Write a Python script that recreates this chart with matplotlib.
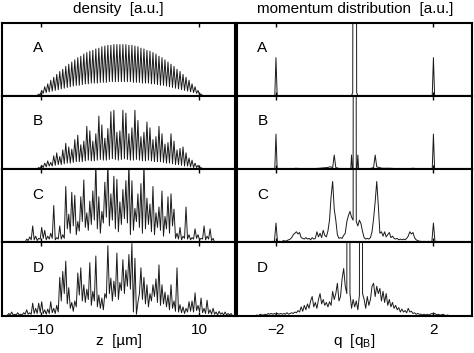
import numpy as np
import matplotlib
matplotlib.use("Agg")
import matplotlib.pyplot as plt

plt.rcParams['font.family'] = ['Liberation Sans', 'DejaVu Sans']
plt.rcParams['mathtext.fontset'] = 'custom'
plt.rcParams['mathtext.rm'] = 'Liberation Sans'

# ---- density: peak height at each lattice site and the minimum between sites ----
site = 0.38  # lattice spacing in um
panel_names = ["A", "B", "C", "D"]
dens_start = [-10.26, -10.26, -11.78, -14.06]

dens_A_peaks = [0.02, 0.07, 0.12, 0.16, 0.21, 0.25, 0.29, 0.33, 0.36, 0.40,
                0.43, 0.46, 0.49, 0.52, 0.54, 0.57, 0.59, 0.61, 0.62, 0.64,
                0.65, 0.67, 0.68, 0.69, 0.69, 0.70, 0.70, 0.70, 0.70, 0.70,
                0.69, 0.69, 0.68, 0.67, 0.65, 0.64, 0.62, 0.61, 0.59, 0.57,
                0.54, 0.52, 0.49, 0.46, 0.43, 0.40, 0.36, 0.33, 0.29, 0.25,
                0.21, 0.16, 0.12, 0.07, 0.02]
dens_A_troughs = [0.01, 0.03, 0.04, 0.05, 0.06, 0.07, 0.08, 0.09, 0.10, 0.11,
                  0.12, 0.13, 0.14, 0.14, 0.15, 0.16, 0.16, 0.17, 0.17, 0.17,
                  0.18, 0.18, 0.18, 0.19, 0.19, 0.19, 0.19, 0.19, 0.19, 0.19,
                  0.19, 0.18, 0.18, 0.18, 0.17, 0.17, 0.17, 0.16, 0.16, 0.15,
                  0.14, 0.14, 0.13, 0.12, 0.11, 0.10, 0.09, 0.08, 0.07, 0.06,
                  0.05, 0.04, 0.03, 0.01]

dens_B_peaks = [0.02, 0.05, 0.08, 0.11, 0.09, 0.18, 0.22, 0.17, 0.26, 0.35,
                0.30, 0.27, 0.40, 0.46, 0.33, 0.38, 0.58, 0.52, 0.38, 0.48,
                0.72, 0.60, 0.42, 0.55, 0.78, 0.80, 0.50, 0.52, 0.80, 0.76,
                0.48, 0.56, 0.80, 0.66, 0.44, 0.50, 0.64, 0.56, 0.40, 0.44,
                0.58, 0.48, 0.34, 0.36, 0.48, 0.38, 0.26, 0.28, 0.30, 0.22,
                0.15, 0.12, 0.08, 0.05, 0.02]
dens_B_troughs = [0.01, 0.02, 0.03, 0.04, 0.04, 0.05, 0.06, 0.06, 0.07, 0.08,
                  0.08, 0.09, 0.10, 0.10, 0.10, 0.11, 0.12, 0.11, 0.11, 0.12,
                  0.13, 0.12, 0.12, 0.13, 0.14, 0.13, 0.12, 0.13, 0.14, 0.13,
                  0.12, 0.12, 0.13, 0.12, 0.11, 0.11, 0.12, 0.11, 0.10, 0.10,
                  0.10, 0.09, 0.08, 0.08, 0.07, 0.06, 0.06, 0.05, 0.04, 0.04,
                  0.03, 0.02, 0.02, 0.01]

dens_C_peaks = [0.04, 0.07, 0.22, 0.08, 0.05, 0.20, 0.16, 0.08, 0.12, 0.50,
                0.06, 0.22, 0.10, 0.76, 0.38, 0.68, 0.64, 0.28, 0.62, 0.85,
                0.40, 0.56, 0.70, 1.10, 0.62, 0.42, 0.82, 1.10, 0.66, 0.90,
                0.86, 0.55, 0.72, 0.84, 1.10, 0.84, 0.46, 0.66, 0.80, 1.10,
                0.60, 0.52, 0.76, 0.40, 0.48, 0.70, 0.35, 0.62, 0.66, 0.45,
                0.12, 0.20, 0.08, 0.48, 0.10, 0.06, 0.18, 0.10, 0.05, 0.22,
                0.08, 0.18, 0.05]
dens_C_troughs = [0.02, 0.03, 0.03, 0.02, 0.04, 0.05, 0.03, 0.04, 0.05, 0.03,
                  0.04, 0.04, 0.05,
                  0.18, 0.12, 0.22, 0.10, 0.15, 0.28, 0.20, 0.16, 0.24, 0.30,
                  0.18, 0.12, 0.26, 0.34, 0.22, 0.30, 0.18, 0.14, 0.24, 0.32,
                  0.26, 0.10, 0.16, 0.28, 0.20, 0.12, 0.18, 0.24, 0.14, 0.10,
                  0.20, 0.16, 0.08, 0.18, 0.12, 0.22,
                  0.05, 0.04, 0.03, 0.05, 0.04, 0.03, 0.04, 0.05, 0.03, 0.04,
                  0.03, 0.04, 0.02]

dens_D_peaks = [0.03, 0.05, 0.02, 0.04, 0.02, 0.04, 0.08, 0.04, 0.17, 0.10,
                0.17, 0.19, 0.08, 0.09, 0.19, 0.10, 0.14, 0.52, 0.60, 0.74,
                0.38, 0.18, 0.20, 0.58, 0.65, 0.42, 0.36, 0.72, 0.33, 0.81,
                0.28, 0.24, 0.30, 0.95, 0.51, 0.47, 0.85, 0.45, 0.76, 0.62,
                0.83, 0.98, 0.78, 0.18, 0.65, 0.52, 0.42, 0.30, 0.42, 0.50,
                0.69, 0.42, 0.32, 0.28, 0.42, 0.20, 0.65, 0.15, 0.12, 0.10,
                0.19, 0.20, 0.31, 0.14, 0.24, 0.10, 0.21, 0.08, 0.10, 0.05,
                0.06, 0.04, 0.05, 0.03, 0.03]
dens_D_troughs = [0.01, 0.01, 0.01, 0.01, 0.01, 0.02, 0.02, 0.02, 0.03, 0.03,
                  0.04, 0.03, 0.02, 0.03, 0.04, 0.03, 0.05,
                  0.20, 0.30, 0.16, 0.10, 0.06, 0.12, 0.28, 0.20, 0.18, 0.22,
                  0.14, 0.20, 0.12, 0.10, 0.08, 0.24, 0.30, 0.20, 0.26, 0.22,
                  0.34, 0.30, 0.40, 0.36, 0.05, 0.02, 0.30, 0.22, 0.16, 0.12,
                  0.20, 0.26, 0.18, 0.14, 0.16, 0.12, 0.08, 0.10, 0.06, 0.05,
                  0.04, 0.03, 0.05, 0.06, 0.05, 0.07, 0.05, 0.04, 0.03, 0.03,
                  0.02, 0.02, 0.01, 0.02, 0.01, 0.01, 0.01]

# ---- momentum distribution ----
mom_A_q = [-3.00, -2.03, -2.00, -1.97, -0.08, -0.05, 0.00, 0.05, 0.08, 1.97, 2.00, 2.03, 3.00]
mom_A_v = [0.00, 0.00, 0.52, 0.00, 0.00, 0.04, 20.0, 0.04, 0.00, 0.00, 0.52, 0.00, 0.00]

mom_B_q = [-3.00, -2.03, -2.00, -1.97, -1.60, -1.50, -1.20, -0.90, -0.70, -0.62,
           -0.56, -0.52, -0.48, -0.42, -0.30, -0.10, -0.08, -0.06, -0.04, 0.00,
           0.04, 0.06, 0.08, 0.10, 0.30, 0.42, 0.48, 0.52, 0.56, 0.62,
           0.70, 0.90, 1.20, 1.50, 1.60, 1.97, 2.00, 2.03, 3.00]
mom_B_v = [0.00, 0.00, 0.475, 0.00, 0.00, 0.01, 0.00, 0.01, 0.02, 0.03,
           0.02, 0.19, 0.02, 0.01, 0.00, 0.00, 0.19, 0.00, 0.02, 20.0,
           0.02, 0.00, 0.19, 0.00, 0.00, 0.01, 0.02, 0.19, 0.03, 0.02,
           0.01, 0.01, 0.00, 0.01, 0.00, 0.00, 0.475, 0.00, 0.00]

mom_C_q0, mom_C_dq = -2.12, 0.04
mom_C_v = [0.00, 0.01, 0.00, 0.26, 0.00, 0.01, 0.00, 0.01, 0.02, 0.01,
           0.02, 0.03, 0.04, 0.06, 0.10, 0.12, 0.14, 0.11, 0.13, 0.06,
           0.05, 0.04, 0.06, 0.04, 0.05, 0.03, 0.06, 0.04, 0.05, 0.14,
           0.07, 0.12, 0.06, 0.16, 0.09, 0.07, 0.15, 0.30, 0.62, 0.83,
           0.45, 0.30, 0.10, 0.05, 0.06, 0.05, 0.09, 0.12, 0.28, 0.36,
           0.42, 0.34, 0.30, 20.0, 0.28, 0.22, 0.30, 0.25, 0.14, 0.06,
           0.04, 0.05, 0.04, 0.06, 0.14, 0.32, 0.55, 0.83, 0.50, 0.12,
           0.14, 0.08, 0.14, 0.07, 0.10, 0.13, 0.06, 0.08, 0.05, 0.04,
           0.05, 0.03, 0.04, 0.03, 0.04, 0.03, 0.05, 0.08, 0.14, 0.11,
           0.13, 0.06, 0.03, 0.02, 0.01, 0.01, 0.00, 0.01, 0.00, 0.00,
           0.01, 0.00, 0.00, 0.26, 0.00, 0.01, 0.00]

mom_D_q0, mom_D_dq = -2.52, 0.04
mom_D_v = [0.00, 0.01, 0.00, 0.02, 0.01, 0.01, 0.02, 0.01, 0.03, 0.02,
           0.03, 0.02, 0.03, 0.02, 0.03, 0.02, 0.03, 0.02, 0.03, 0.02,
           0.04, 0.02, 0.03, 0.04, 0.03, 0.05, 0.04, 0.07, 0.05, 0.12,
           0.06, 0.14, 0.08, 0.16, 0.10, 0.20, 0.26, 0.12, 0.18, 0.10,
           0.22, 0.30, 0.16, 0.22, 0.14, 0.18, 0.12, 0.19, 0.14, 0.33,
           0.22, 0.30, 0.44, 0.20, 0.26, 0.50, 0.64, 0.40, 0.30, 20.0,
           0.30, 0.10, 0.22, 0.12, 0.20, 0.08, 0.28, 20.0, 0.30, 0.22,
           0.10, 0.26, 0.14, 0.22, 0.40, 0.44, 0.26, 0.40, 0.30, 0.37,
           0.20, 0.33, 0.18, 0.30, 0.14, 0.22, 0.12, 0.18, 0.10, 0.14,
           0.08, 0.11, 0.05, 0.09, 0.05, 0.07, 0.04, 0.10, 0.05, 0.06,
           0.03, 0.04, 0.02, 0.03, 0.02, 0.02, 0.01, 0.02, 0.01, 0.02,
           0.01, 0.02, 0.03, 0.02, 0.03, 0.01, 0.02, 0.01, 0.01, 0.02,
           0.01, 0.00, 0.01, 0.00, 0.00, 0.00, 0.00]


def spikes(z0, peaks, troughs):
    vals = [0.0]
    for k, p in enumerate(peaks):
        vals.append(p)
        if k < len(troughs):
            vals.append(troughs[k])
    vals.append(0.0)
    z = z0 - site / 2 + site / 2 * np.arange(len(vals))
    return z, vals


dens = [(dens_A_peaks, dens_A_troughs), (dens_B_peaks, dens_B_troughs),
        (dens_C_peaks, dens_C_troughs), (dens_D_peaks, dens_D_troughs)]
mom = [(mom_A_q, mom_A_v), (mom_B_q, mom_B_v),
       (mom_C_q0 + mom_C_dq * np.arange(len(mom_C_v)), mom_C_v),
       (mom_D_q0 + mom_D_dq * np.arange(len(mom_D_v)), mom_D_v)]

W, H = 474, 353
fig = plt.figure(figsize=(W / 100, H / 100), dpi=100)


def px_axes(x0, x1, ytop, ybot):
    return fig.add_axes([x0 / W, 1 - ybot / H, (x1 - x0) / W, (ybot - ytop) / H])


rows = [(22.7, 95.5), (95.5, 169.0), (169.0, 242.0), (242.0, 315.7)]
line_kw = dict(color='#1a1a1a', lw=0.7)

for r, (ytop, ybot) in enumerate(rows):
    axl = px_axes(2, 235, ytop, ybot)
    axr = px_axes(237, 472, ytop, ybot)

    z, v = spikes(dens_start[r], *dens[r])
    axl.plot(z, v, **line_kw)
    axl.set_xlim(-14.9, 14.55)
    axl.set_xticks([-10, 10])

    q, v = mom[r]
    axr.plot(q, v, **line_kw)
    axr.set_xlim(-2.99, 2.98)
    axr.set_xticks([-2, 2])
    axr.set_xticklabels(['\u22122', '2'])

    for ax, lx in ((axl, 0.155), (axr, 0.108)):
        ax.set_ylim(0, 1)
        ax.set_yticks([])
        for s in ax.spines.values():
            s.set_linewidth(1.5)
        ax.tick_params(axis='x', direction='in', top=True, bottom=True,
                       length=3, width=1, labelsize=11, pad=5,
                       labelbottom=(r == 3))
        ax.text(lx, 0.65, panel_names[r], transform=ax.transAxes,
                fontsize=11, ha='center', va='center')

fig.text(118.5 / W, 1 - 12.5 / H, "density  [a.u.]", fontsize=11,
         ha='center', va='baseline')
fig.text(354.7 / W, 1 - 12.5 / H, "momentum distribution  [a.u.]", fontsize=11,
         ha='center', va='baseline')
fig.text(118.5 / W, 1 - 345 / H, "z  [\u00b5m]", fontsize=11,
         ha='center', va='baseline')
fig.text(354.7 / W, 1 - 345 / H, "q  [q$_{\\mathrm{B}}$]", fontsize=11,
         ha='center', va='baseline')

fig.savefig("out.png", dpi=100)
